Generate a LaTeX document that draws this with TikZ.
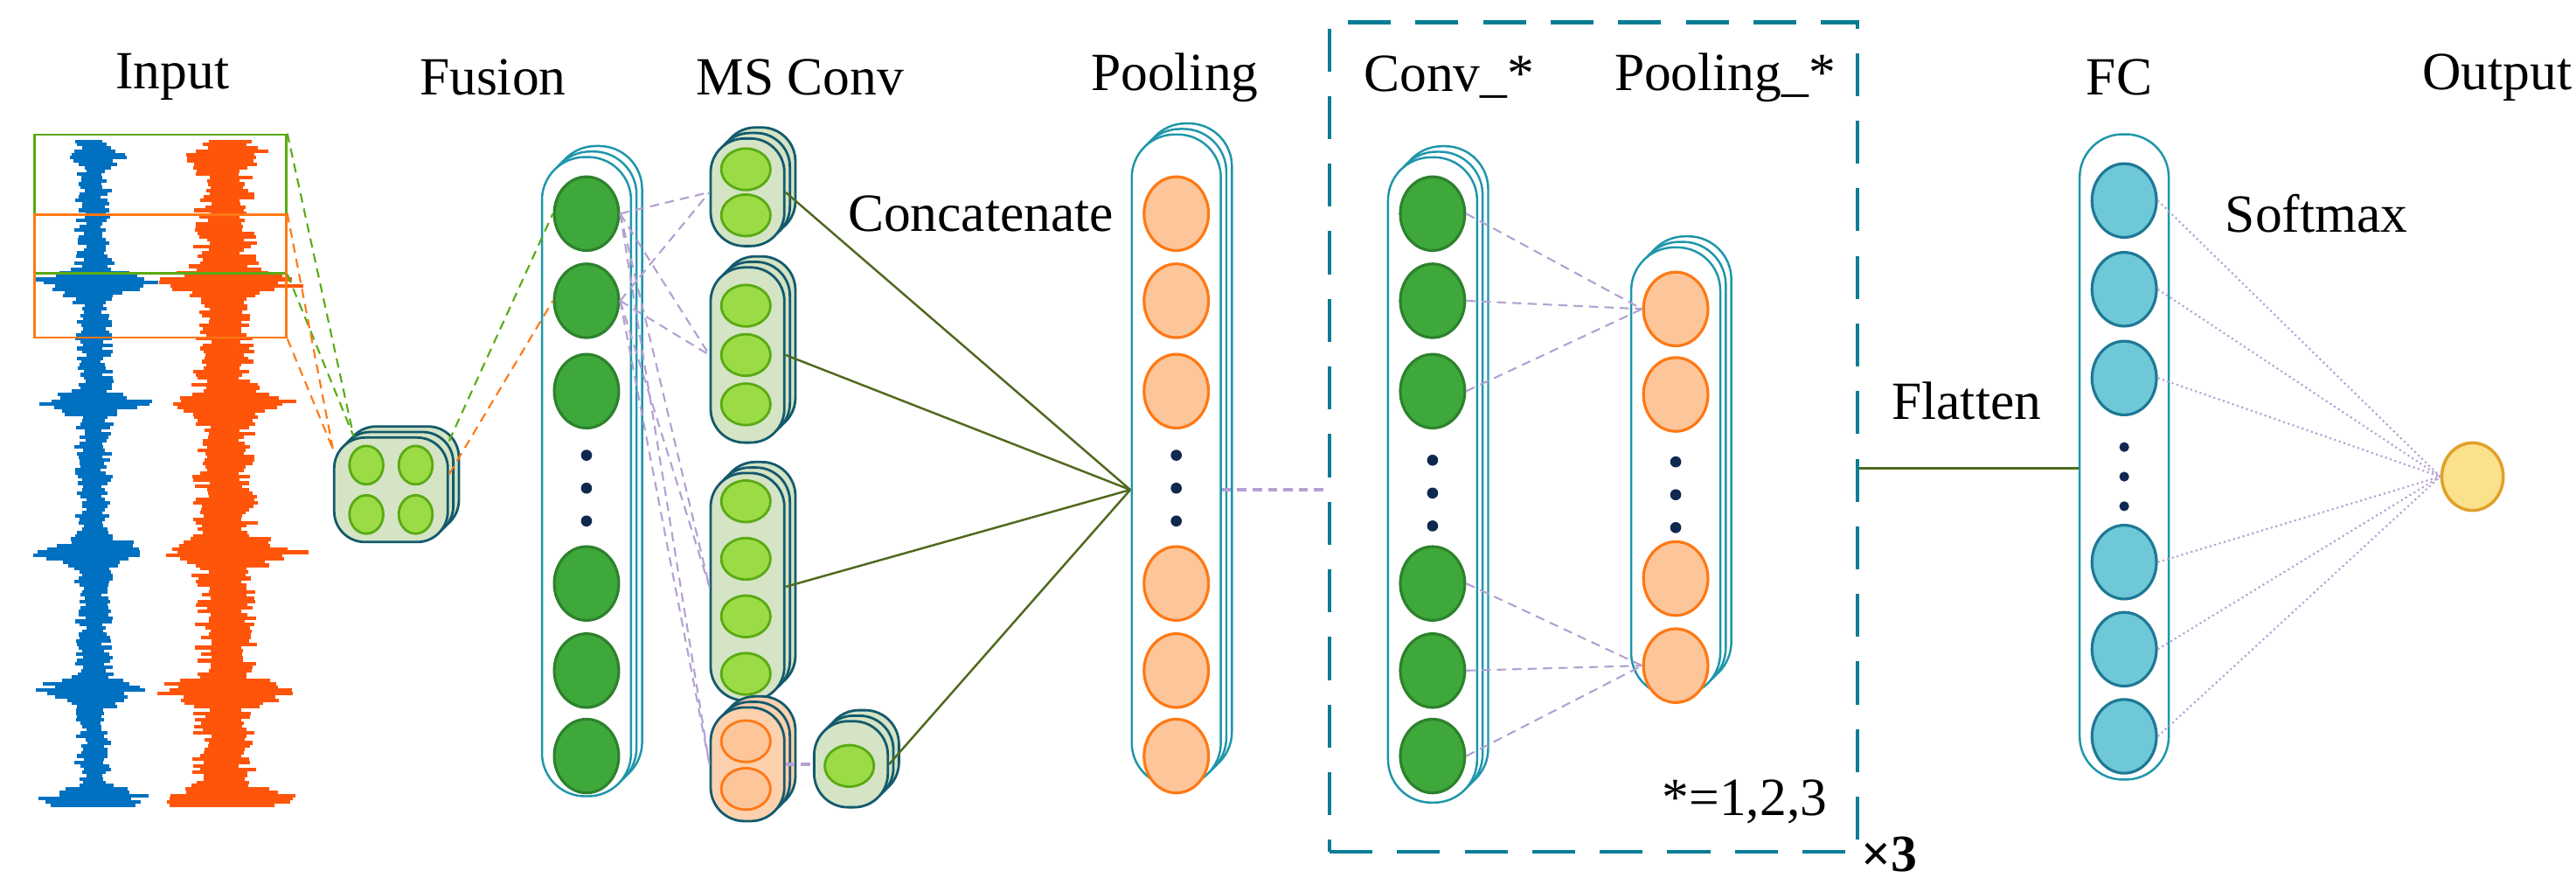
\documentclass[tikz,border=0pt]{standalone}
\usepackage{fontspec}
\setmainfont{Liberation Serif}
\usetikzlibrary{shadows,shapes.geometric,calc}
\definecolor{colline}{RGB}{30,150,170}
\definecolor{msdraw}{RGB}{20,90,110}
\definecolor{msfill}{RGB}{212,228,196}
\definecolor{lgfill}{RGB}{155,220,70}
\definecolor{lgdraw}{RGB}{90,170,20}
\definecolor{dgfill}{RGB}{63,168,58}
\definecolor{dgdraw}{RGB}{45,130,45}
\definecolor{orfill}{RGB}{253,197,154}
\definecolor{ordraw}{RGB}{255,120,20}
\definecolor{cyfill}{RGB}{110,200,215}
\definecolor{cydraw}{RGB}{30,120,150}
\definecolor{purp}{RGB}{180,160,210}
\definecolor{olive2}{RGB}{80,105,30}
\definecolor{sigblue}{RGB}{0,112,192}
\definecolor{sigor}{RGB}{255,85,10}
\definecolor{navy}{RGB}{15,40,80}
\definecolor{boxteal}{RGB}{10,125,150}
\definecolor{outfill}{RGB}{251,225,140}
\definecolor{outdraw}{RGB}{225,160,40}
\begin{document}
\begin{tikzpicture}[x=0.0188cm,y=-0.0188cm,
  lbl/.style={font=\fontsize{17.5}{19}\selectfont, inner sep=0pt},
  col/.style={draw=colline, line width=0.7pt, fill=white, rounded corners=14pt,
    minimum width=29pt, inner sep=0pt},
  stack/.style={double copy shadow={shadow xshift=1.8pt, shadow yshift=1.8pt}},
  grp/.style={draw=msdraw, line width=0.8pt, fill=msfill, rounded corners=11pt,
    minimum width=24pt, inner sep=0pt, stack},
  big/.style={ellipse, draw=#1draw, fill=#1fill, line width=0.9pt,
    minimum width=21pt, minimum height=24pt, inner sep=0pt},
  small/.style={ellipse, draw=#1draw, fill=#1fill, line width=0.8pt,
    minimum width=16pt, minimum height=13.5pt, inner sep=0pt},
  link/.style={purp, densely dashed, line width=0.6pt},
  cat/.style={olive2, line width=0.7pt},
  dots/.style={navy}]
\useasboundingbox (0,0) rectangle (1568,538);

% titles
\node[lbl] (tin) at (105,47) {Input};
\node[lbl] (tfu) at (300,47) {Fusion};
\node[lbl] (tms) at (487,47) {MS Conv};
\node[lbl] (tpo) at (715,47) {Pooling};
\node[lbl] (tcv) at (882,47) {Conv\_*};
\node[lbl] (tpp) at (1050,47) {Pooling\_*};
\node[lbl] (tfc) at (1290,47) {FC};
\node[lbl] (tou) at (1520,47) {Output};

% input signals
\pgfmathsetseed{7}
\foreach \y in {86,88,...,490}{
  \pgfmathsetmacro\env{exp(-((\y-172)/7)^2)+0.9*exp(-((\y-245)/6)^2)+exp(-((\y-336)/7)^2)+0.9*exp(-((\y-420)/7)^2)+exp(-((\y-486)/6)^2)+0.3*exp(-((\y-95)/5)^2)}
  \pgfmathsetmacro\bl{4+8*rnd+30*\env*(0.5+0.5*rnd)}
  \pgfmathsetmacro\br{4+8*rnd+30*\env*(0.5+0.5*rnd)}
  \pgfmathsetmacro\ol{8+12*rnd+28*\env*(0.5+0.5*rnd)}
  \pgfmathsetmacro\orr{8+12*rnd+35*\env*(0.5+0.5*rnd)}
  \fill[sigblue] (57-\bl,\y-1.1) rectangle (57+\br,\y+1.1);
  \fill[sigor] (137-\ol,\y-1.1) rectangle (137+\orr,\y+1.1);
}
\node[draw=lgdraw, line width=0.8pt, minimum width=82pt, minimum height=45pt, inner sep=0pt] (gbox) at (97.5,124) {};
\node[draw=ordraw, line width=0.8pt, minimum width=82pt, minimum height=40pt, inner sep=0pt] (obox) at (97.5,168) {};

% fusion
\node[draw=msdraw, line width=0.8pt, fill=msfill, rounded corners=10pt,
  minimum width=37pt, minimum height=34pt, stack] (fus) at (238,298) {};
\foreach \n/\dx/\dy in {a/-15/-15,b/15/-15,c/-15/15,d/15/15}
  \node[small=lg, minimum width=11pt, minimum height=12.5pt] (fu\n) at (238+\dx,298+\dy) {};
\draw[lgdraw, densely dashed, line width=0.6pt] (gbox.north east) -- (fus.125);
\draw[lgdraw, densely dashed, line width=0.6pt] (gbox.south east) -- (fus.125);
\draw[ordraw, densely dashed, line width=0.6pt] (obox.north east) -- (fus.145);
\draw[ordraw, densely dashed, line width=0.6pt] (obox.south east) -- (fus.145);

% fusion output column
\node[col, stack, minimum height=208pt] (c1) at (357,290) {};
\foreach \n/\y in {a/130,b/183,c/238,d/355,e/408,f/460}
  \node[big=dg] (c1\n) at (357,\y) {};
\foreach \y in {277,297,317} \fill[dots] (357,\y) circle (1.8pt);
\draw[lgdraw, densely dashed, line width=0.6pt] (fus.40) -- (c1a.west);
\draw[ordraw, densely dashed, line width=0.6pt] (fus.15) -- (c1b.west);

% multi-scale conv groups
\node[grp, minimum height=35pt] (m1) at (455,117) {};
\node[grp, minimum height=57pt] (m2) at (455,216) {};
\node[grp, minimum height=74pt] (m3) at (455,357) {};
\node[grp, fill=orfill!80, minimum height=37pt] (m4) at (455,465) {};
\node[grp, minimum height=28pt] (m5) at (518,465) {};
\foreach \n/\y in {a/103,b/131} \node[small=lg] (m1\n) at (454,\y) {};
\foreach \n/\y in {a/186,b/216,c/246} \node[small=lg] (m2\n) at (454,\y) {};
\foreach \n/\y in {a/305,b/340,c/375,d/410} \node[small=lg] (m3\n) at (454,\y) {};
\foreach \n/\y in {a/451,b/480} \node[small=or] (m4\n) at (454,\y) {};
\node[small=lg] (m5a) at (517,466) {};
\foreach \s in {c1a,c1b}
  \foreach \t in {m1,m2,m3,m4}
    \draw[link] (\s.east) -- (\t.west);
\draw[link, line width=1.2pt] (m4.east) -- (m5.west);

% concatenate
\node[lbl] (tcat) at (597,130) {Concatenate};
\node[col, stack, minimum height=212pt] (p) at (716,280) {};
\coordinate (cj) at (688,298);
\foreach \n/\y in {a/130,b/183,c/238,d/355,e/408,f/460}
  \node[big=or] (p\n) at (716,\y) {};
\foreach \y in {277,297,317} \fill[dots] (716,\y) circle (1.8pt);
\foreach \s in {m1,m2,m3,m5} \draw[cat] (\s.east) -- (cj);

% repeated block
\node[draw=boxteal, line width=1.2pt, dash pattern=on 14pt off 8pt,
  minimum width=172pt, minimum height=270pt, inner sep=0pt] (rep) at (970,266) {};
\draw[link, line width=1pt] (p.east |- cj) -- (rep.west |- cj);
\node[col, stack, minimum height=210pt] (cv) at (872,292) {};
\foreach \n/\y in {a/130,b/183,c/238,d/355,e/408,f/460}
  \node[big=dg] (cv\n) at (872,\y) {};
\foreach \y in {280,300,320} \fill[dots] (872,\y) circle (1.8pt);
\node[col, stack, minimum height=146pt] (pp) at (1020,287) {};
\foreach \n/\y in {a/188,b/240,c/352,d/405}
  \node[big=or] (pp\n) at (1020,\y) {};
\foreach \y in {281,301,321} \fill[dots] (1020,\y) circle (1.8pt);
\foreach \s in {cva,cvb,cvc} \draw[link] (\s.east) -- (ppa.west);
\foreach \s in {cvd,cve,cvf} \draw[link] (\s.east) -- (ppd.west);
\node[lbl] (tst) at (1062,488) {*=1,2,3};
\node[lbl, font=\fontsize{17}{19}\selectfont\bfseries] (tx3) at (1150,520) {×3};

% flatten and fully connected
\node[lbl] (tfl) at (1197,244) {Flatten};
\node[col, minimum height=210pt] (fc) at (1293,278) {};
\foreach \n/\y in {a/122,b/176,c/230,d/342,e/395,f/448}
  \node[big=cy] (fc\n) at (1293,\y) {};
\foreach \y in {272,290,308} \fill[dots] (1293,\y) circle (1.6pt);
\draw[cat] (rep.east |- 0,285) -- (fc.west |- 0,285);
\node[lbl] (tsm) at (1410,130) {Softmax};
\node[ellipse, draw=outdraw, fill=outfill, line width=1pt, minimum width=20pt,
  minimum height=22pt, inner sep=0pt] (o) at (1505,290) {};
\foreach \n in {a,b,c,d,e,f}
  \draw[purp, densely dotted, line width=0.6pt] (fc\n.east) -- (o.west);
\end{tikzpicture}
\end{document}
